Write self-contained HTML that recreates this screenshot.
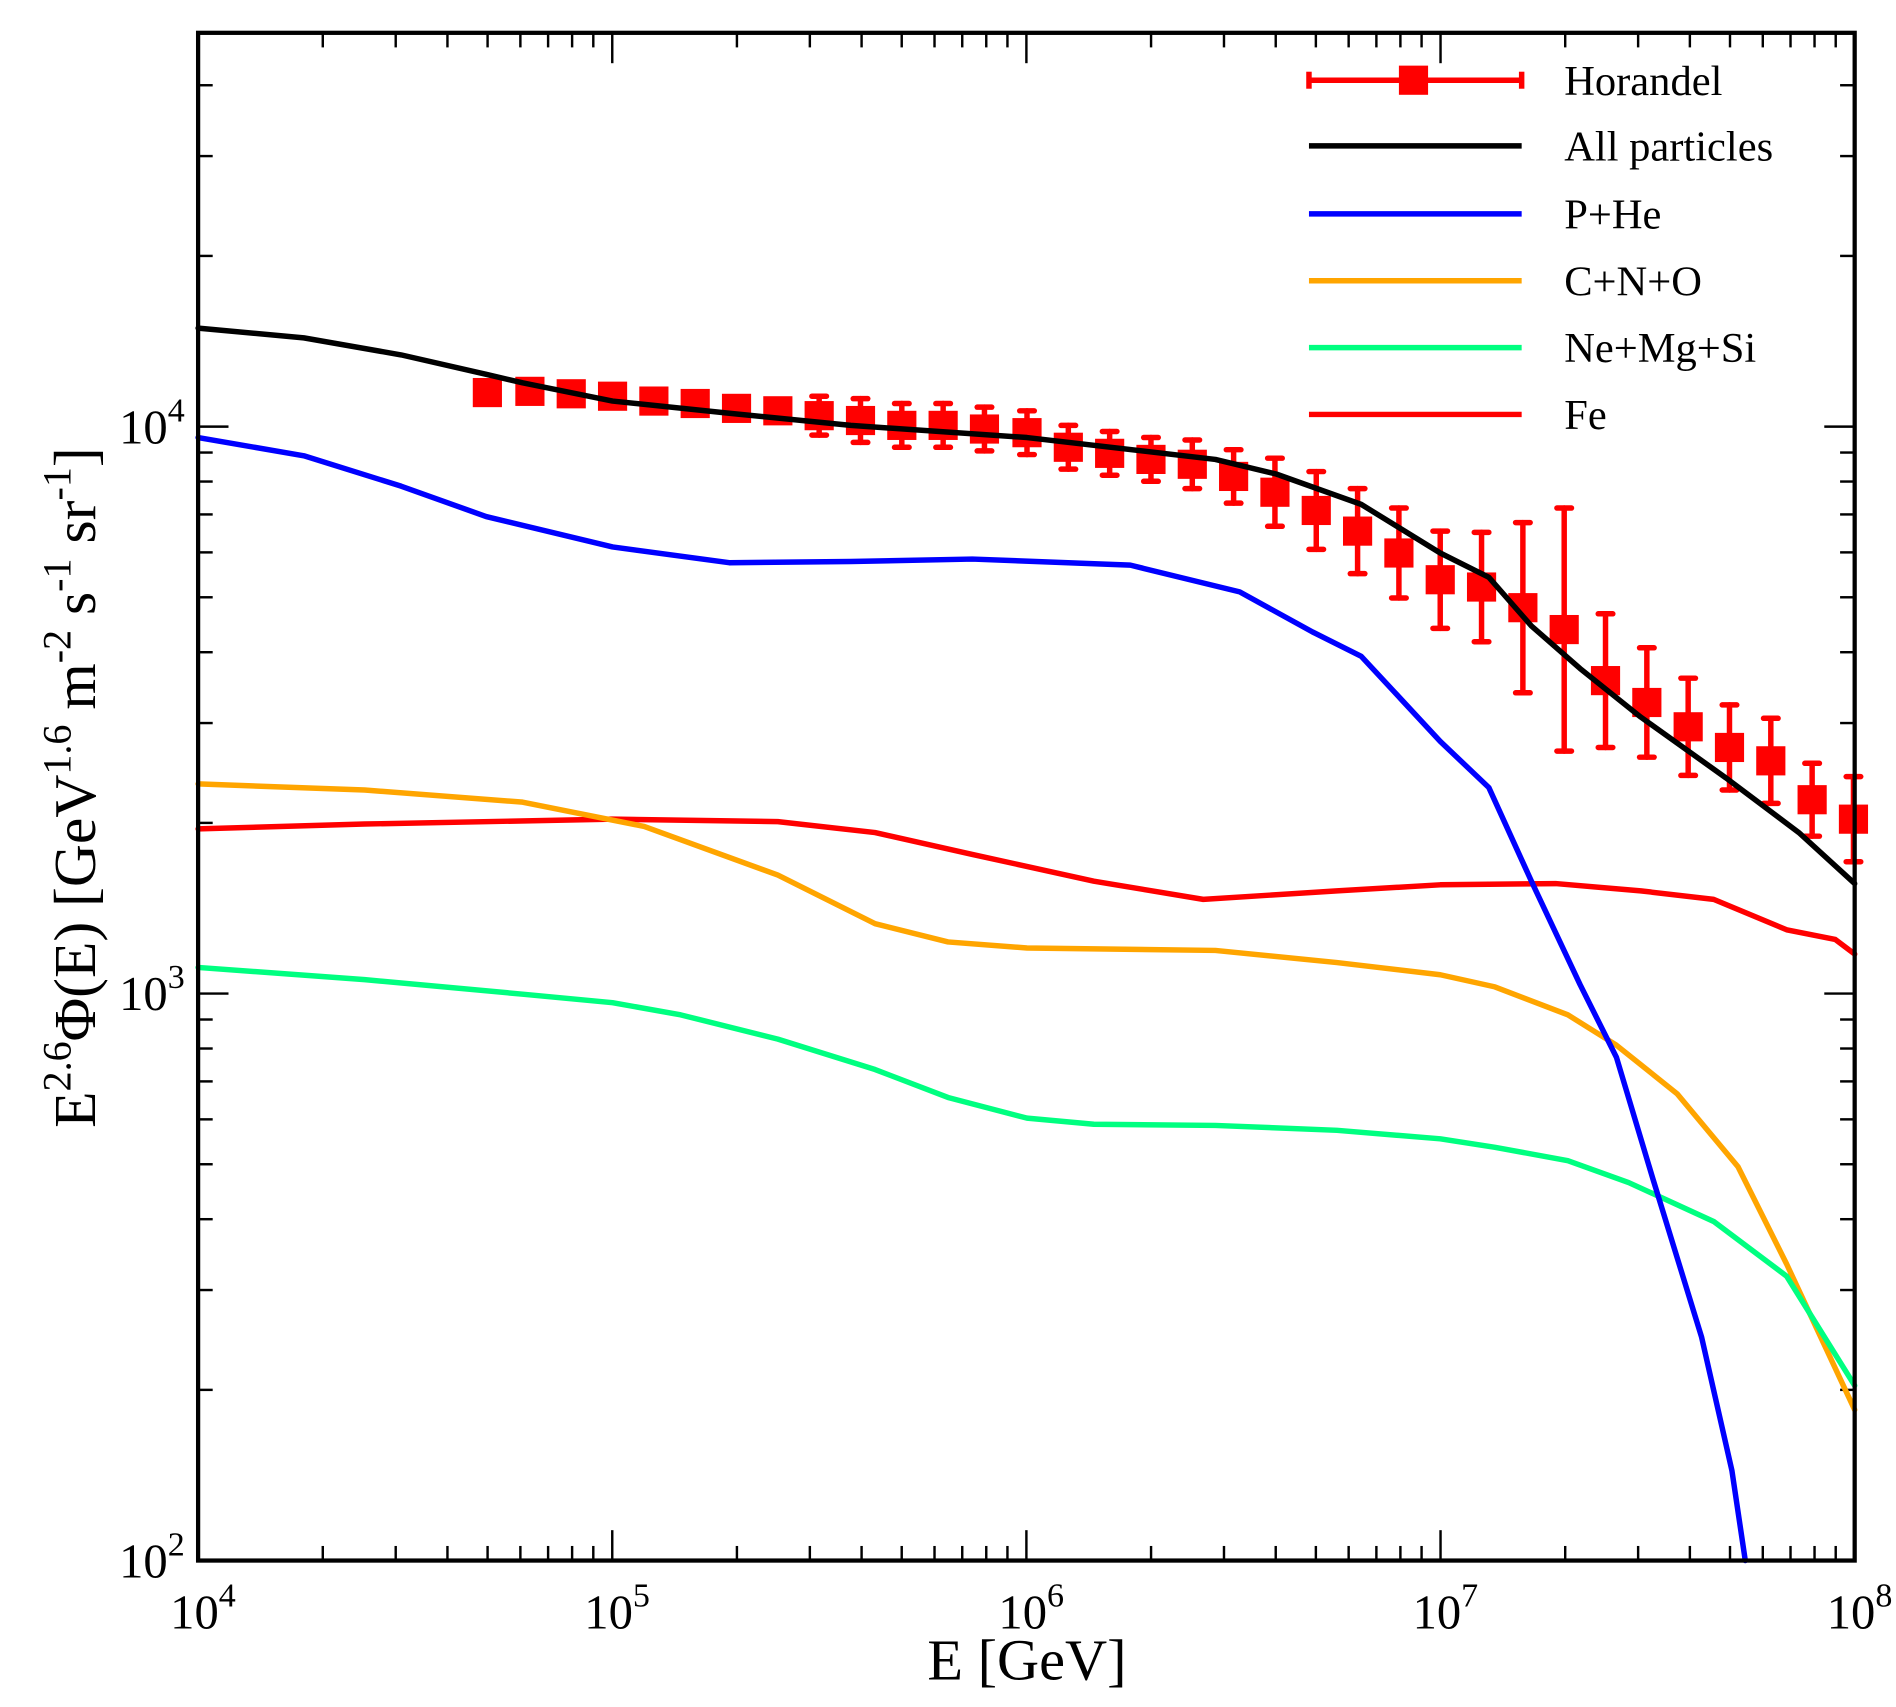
<!DOCTYPE html>
<html><head><meta charset="utf-8"><style>
html,body{margin:0;padding:0;background:#fff;}
svg{display:block;}
text{font-family:"Liberation Serif",serif;fill:#000;}
</style></head><body>
<svg id="s" width="1896" height="1707" viewBox="0 0 1560 1404.5" xmlns="http://www.w3.org/2000/svg">
<rect x="0" y="0" width="1560" height="1404.5" fill="#fff"/>
<g id="ticks" stroke="#000" stroke-width="2"></g>
<g fill="none" stroke-width="4.5" stroke-linejoin="round" stroke-linecap="round">
<polyline stroke="#ff0000" points="163,682 300,678 504,674 640,676 720,685 800,703 900,725 990,740 1100,733 1185,728 1280,727 1350,733 1410,740 1470,765 1510,773 1526,785"/>
<polyline stroke="#ffa500" points="163,645 300,650 430,660 530,680 640,720 720,760 780,775 845,780 1000,782 1100,792 1185,802 1230,812 1290,835 1330,860 1380,900 1430,960 1470,1040 1526,1160"/>
<polyline stroke="#00ff80" points="163,796 300,806 430,818 504,825 560,835 640,855 720,880 780,903 845,920 900,925 1000,926 1100,930 1185,937 1230,944 1290,955 1340,973 1410,1005 1470,1050 1526,1140"/>
<polyline stroke="#0000ff" points="163,360 250,375 330,400 400,425 504,450 600,463 700,462 800,460 930,465 1020,487 1080,520 1120,540 1185,610 1225,648 1260,725 1300,810 1330,870 1360,970 1400,1100 1425,1210 1436,1284"/>
<g id="pts"></g>
<polyline stroke="#000" points="163,270 250,278 330,292 400,308 430,315 504,330 600,340 700,350 845,360 1000,378 1050,390 1120,415 1185,455 1225,475 1260,515 1300,550 1350,590 1420,640 1480,685 1526,727"/>
</g>
<rect x="163" y="27" width="1363" height="1257" fill="none" stroke="#000" stroke-width="3.5"/>
<g stroke-width="4.5">
<line x1="1077" y1="66" x2="1252" y2="66" stroke="#ff0000"/>
<line x1="1077" y1="59" x2="1077" y2="73" stroke="#ff0000"/>
<line x1="1252" y1="59" x2="1252" y2="73" stroke="#ff0000"/>
<rect x="1151" y="54" width="24" height="24" fill="#ff0000" stroke="none"/>
<line x1="1077" y1="120" x2="1252" y2="120" stroke="#000"/>
<line x1="1077" y1="176" x2="1252" y2="176" stroke="#0000ff"/>
<line x1="1077" y1="231" x2="1252" y2="231" stroke="#ffa500"/>
<line x1="1077" y1="286" x2="1252" y2="286" stroke="#00ff80"/>
<line x1="1077" y1="341" x2="1252" y2="341" stroke="#ff0000"/>
</g>
<g font-size="35">
<text x="1287" y="78">Horandel</text>
<text x="1287" y="132">All particles</text>
<text x="1287" y="188">P+He</text>
<text x="1287" y="243">C+N+O</text>
<text x="1287" y="298">Ne+Mg+Si</text>
<text x="1287" y="353">Fe</text>
</g>
<g id="labels" font-size="40"></g>
<text x="845" y="1382" font-size="48" text-anchor="middle">E [GeV]</text>
<text transform="translate(78,648) rotate(-90)" font-size="49" text-anchor="middle">E<tspan font-size="33" dy="-20">2.6</tspan><tspan dy="20">Φ(E) [GeV</tspan><tspan font-size="33" dy="-20">1.6</tspan><tspan dy="20"> m</tspan><tspan font-size="33" dy="-20">-2</tspan><tspan dy="20"> s</tspan><tspan font-size="33" dy="-20">-1</tspan><tspan dy="20"> sr</tspan><tspan font-size="33" dy="-20">-1</tspan><tspan dy="20">]</tspan></text>
</svg>
<script>
var NS="http://www.w3.org/2000/svg";
function el(p,t,a,txt){var e=document.createElementNS(NS,t);for(var k in a)e.setAttribute(k,a[k]);if(txt)e.textContent=txt;p.appendChild(e);return e;}
var T=document.getElementById('ticks'),L=document.getElementById('labels');
var x0=163,x1=1526,y0=27,y1=1284,xd=340.75,yd=466.5;
for(var d=0;d<4;d++){for(var m=1;m<10;m++){var x=x0+(d+Math.log10(m))*xd;var len=m==1?25:12;if(m==1&&d==0)continue;
el(T,'line',{x1:x,y1:y1,x2:x,y2:y1-len});el(T,'line',{x1:x,y1:y0,x2:x,y2:y0+len});}}
for(var d=0;d<3;d++){for(var m=1;m<10;m++){var y=y1-(d+Math.log10(m))*yd;if(y<y0)continue;var len=m==1?25:12;if(m==1&&d==0)continue;
el(T,'line',{x1:x0,y1:y,x2:x0+len,y2:y});el(T,'line',{x1:x1,y1:y,x2:x1-len,y2:y});}}
var yl=[[2,1284],[3,817],[4,351]];
yl.forEach(function(a){var t=el(L,'text',{x:152,y:a[1]+14,'text-anchor':'end'},'10');el(t,'tspan',{'font-size':28,dy:-18},String(a[0]));});
for(var d=0;d<5;d++){var x=x0+d*xd;var t=el(L,'text',{x:x+4,y:1340,'text-anchor':'middle'},'10');el(t,'tspan',{'font-size':28,dy:-18},String(d+4));}
var P=[[401,323,5],[436,322,5],[470,324,5],[504,326,5],[538,330,6],[572,332,6],[606,336,7],[640,338,8],[674,342,16],[708,346,18],[742,350,18],[776,350,18],[810,353,18],[845,356,18],[879,368,18],[913,373,18],[947,378,18],[981,382,20],[1015,392,22],[1049,405,28],[1083,420,32],[1117,437,35],[1151,455,37],[1185,477,40],[1219,483,45],[1253,500,70],[1287,518,100],[1321,560,55],[1355,578,45],[1389,598,40],[1423,615,35],[1457,626,35],[1491,658,30],[1525,674,35]];
var G=document.getElementById('pts');
P.forEach(function(p){el(G,'line',{x1:p[0],y1:p[1]-p[2],x2:p[0],y2:p[1]+p[2],stroke:'#ff0000'});
el(G,'line',{x1:p[0]-6,y1:p[1]-p[2],x2:p[0]+6,y2:p[1]-p[2],stroke:'#ff0000'});
el(G,'line',{x1:p[0]-6,y1:p[1]+p[2],x2:p[0]+6,y2:p[1]+p[2],stroke:'#ff0000'});
el(G,'rect',{x:p[0]-12,y:p[1]-12,width:24,height:24,fill:'#ff0000',stroke:'none'});});
</script>
</body></html>
